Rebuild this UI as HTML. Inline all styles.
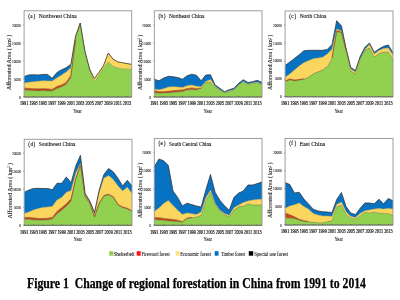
<!DOCTYPE html>
<html><head><meta charset="utf-8"><style>
html,body{margin:0;padding:0;background:#fff;width:400px;height:300px;overflow:hidden}
svg{display:block;filter:blur(0.35px)}
text{font-family:"Liberation Serif",serif;fill:#222}
.lg{fill:none;stroke:#5f8f35;stroke-width:.5}
.lr{fill:none;stroke:#8a2a10;stroke-width:.6}
.ly{fill:none;stroke:#c9a040;stroke-width:.5}
.lt{fill:none;stroke:#2a2a2a;stroke-width:.7}
.fr{fill:none;stroke:#999;stroke-width:.95}
.ax{stroke:#5a6a4a;stroke-width:.9}
.tk{stroke:#555;stroke-width:.5}
.yt{font-size:4.6px;text-anchor:end;fill:#222;stroke:#222;stroke-width:.08}
.xt{font-size:5.6px;text-anchor:middle;fill:#111;stroke:#111;stroke-width:.2}
.xl{font-size:6.2px;text-anchor:middle;fill:#222;stroke:#222;stroke-width:.08}
.yl{font-size:6.0px;text-anchor:middle;fill:#222;stroke:#222;stroke-width:.1}
.sup{font-size:3px}
.ti{font-size:5.5px;fill:#111;stroke:#111;stroke-width:.1}
.tp{font-size:5.2px;fill:#111;stroke:#111;stroke-width:.12}
.lg2{font-size:6.2px;fill:#111;stroke:#111;stroke-width:.08}
.cap{font-size:14px;font-weight:bold;fill:#000;stroke:#000;stroke-width:.25}
</style></head><body>
<svg width="400" height="300" viewBox="0 0 400 300">
<g><path d="M24.1,90.1 L28.78,90.5 L33.46,90.8 L38.13,90.9 L42.81,90.7 L47.49,90.9 L52.17,91.1 L56.85,88.7 L61.53,86.9 L66.2,84.5 L70.88,77.5 L75.56,40 L80.24,23.5 L84.92,52 L89.6,70 L94.27,82 L98.95,75 L103.63,68 L108.31,62 L112.99,66.2 L117.67,68 L122.34,68.9 L127.02,69.2 L131.7,69.2 L131.7,97 L127.02,97 L122.34,97 L117.67,97 L112.99,97 L108.31,97 L103.63,97 L98.95,97 L94.27,97 L89.6,97 L84.92,97 L80.24,97 L75.56,97 L70.88,97 L66.2,97 L61.53,97 L56.85,97 L52.17,97 L47.49,97 L42.81,97 L38.13,97 L33.46,97 L28.78,97 L24.1,97Z" fill="#92d050"/><path d="M24.1,88 L28.78,88.5 L33.46,88.7 L38.13,88.9 L42.81,88.7 L47.49,88.9 L52.17,89.4 L56.85,86.6 L61.53,84.9 L66.2,82.4 L70.88,75.4 L75.56,40 L80.24,23 L84.92,52 L89.6,70 L94.27,82 L98.95,75 L103.63,68 L108.31,62 L112.99,66.2 L117.67,68 L122.34,68.9 L127.02,69.2 L131.7,69.2 L131.7,69.2 L127.02,69.2 L122.34,68.9 L117.67,68 L112.99,66.2 L108.31,62 L103.63,68 L98.95,75 L94.27,82 L89.6,70 L84.92,52 L80.24,23.5 L75.56,40 L70.88,77.5 L66.2,84.5 L61.53,86.9 L56.85,88.7 L52.17,91.1 L47.49,90.9 L42.81,90.7 L38.13,90.9 L33.46,90.8 L28.78,90.5 L24.1,90.1Z" fill="#c24a1c"/><path d="M24.1,83.1 L28.78,82.3 L33.46,81.7 L38.13,81.3 L42.81,80.7 L47.49,80.9 L52.17,81 L56.85,77.9 L61.53,75.1 L66.2,71.9 L70.88,67.7 L75.56,37.5 L80.24,23 L84.92,51.5 L89.6,69.5 L94.27,78.6 L98.95,72.4 L103.63,65.3 L108.31,53 L112.99,59.1 L117.67,61.8 L122.34,62.7 L127.02,63.6 L131.7,64.4 L131.7,69.2 L127.02,69.2 L122.34,68.9 L117.67,68 L112.99,66.2 L108.31,62 L103.63,68 L98.95,75 L94.27,82 L89.6,70 L84.92,52 L80.24,23 L75.56,40 L70.88,75.4 L66.2,82.4 L61.53,84.9 L56.85,86.6 L52.17,89.4 L47.49,88.9 L42.81,88.7 L38.13,88.9 L33.46,88.7 L28.78,88.5 L24.1,88Z" fill="#fad65f"/><path d="M24.1,76.5 L28.78,74.9 L33.46,74.7 L38.13,75 L42.81,74.4 L47.49,74.4 L52.17,78.2 L56.85,72.6 L61.53,69.8 L66.2,67.7 L70.88,64.2 L75.56,36 L80.24,23 L84.92,51 L89.6,69 L94.27,78.6 L98.95,72.4 L103.63,65.3 L108.31,53 L112.99,59.1 L117.67,61.8 L122.34,62.7 L127.02,63.6 L131.7,64.4 L131.7,64.4 L127.02,63.6 L122.34,62.7 L117.67,61.8 L112.99,59.1 L108.31,53 L103.63,65.3 L98.95,72.4 L94.27,78.6 L89.6,69.5 L84.92,51.5 L80.24,23 L75.56,37.5 L70.88,67.7 L66.2,71.9 L61.53,75.1 L56.85,77.9 L52.17,81 L47.49,80.9 L42.81,80.7 L38.13,81.3 L33.46,81.7 L28.78,82.3 L24.1,83.1Z" fill="#0872c2"/><path d="M24.1,90.1 L28.78,90.5 L33.46,90.8 L38.13,90.9 L42.81,90.7 L47.49,90.9 L52.17,91.1 L56.85,88.7 L61.53,86.9 L66.2,84.5 L70.88,77.5 L75.56,40 L80.24,23.5 L84.92,52 L89.6,70 L94.27,82 L98.95,75 L103.63,68 L108.31,62 L112.99,66.2 L117.67,68 L122.34,68.9 L127.02,69.2 L131.7,69.2" class="lg"/><path d="M24.1,88 L28.78,88.5 L33.46,88.7 L38.13,88.9 L42.81,88.7 L47.49,88.9 L52.17,89.4 L56.85,86.6 L61.53,84.9 L66.2,82.4 L70.88,75.4 L75.56,40" class="lr"/><path d="M24.1,83.1 L28.78,82.3 L33.46,81.7 L38.13,81.3 L42.81,80.7 L47.49,80.9 L52.17,81 L56.85,77.9 L61.53,75.1 L66.2,71.9 L70.88,67.7 L75.56,37.5 L80.24,23 M89.6,69.5 L94.27,78.6 L98.95,72.4 L103.63,65.3 L108.31,53 L112.99,59.1 L117.67,61.8 L122.34,62.7 L127.02,63.6 L131.7,64.4" class="ly"/><path d="M24.1,76.5 L28.78,74.9 L33.46,74.7 L38.13,75 L42.81,74.4 L47.49,74.4 L52.17,78.2 L56.85,72.6 L61.53,69.8 L66.2,67.7 L70.88,64.2 L75.56,36 L80.24,23 L84.92,51 L89.6,69 L94.27,78.6 L98.95,72.4 L103.63,65.3 L108.31,53 L112.99,59.1 L117.67,61.8 L122.34,62.7 L127.02,63.6 L131.7,64.4" class="lt"/><rect x="24.1" y="10.8" width="107.6" height="86.2" class="fr"/><path d="M24.1,97 H131.7" class="ax"/><text x="20.9" y="98.5" class="yt" textLength="1.8" lengthAdjust="spacingAndGlyphs">0</text><path d="M23.1,97 h1" class="tk"/><text x="20.9" y="80.5" class="yt" textLength="7.2" lengthAdjust="spacingAndGlyphs">5000</text><path d="M23.1,79 h1" class="tk"/><text x="20.9" y="62.5" class="yt" textLength="9" lengthAdjust="spacingAndGlyphs">10000</text><path d="M23.1,61 h1" class="tk"/><text x="20.9" y="44.5" class="yt" textLength="9" lengthAdjust="spacingAndGlyphs">15000</text><path d="M23.1,43 h1" class="tk"/><text x="20.9" y="26.5" class="yt" textLength="9" lengthAdjust="spacingAndGlyphs">20000</text><path d="M23.1,25 h1" class="tk"/><text x="24.1" y="105.3" class="xt" textLength="8.3" lengthAdjust="spacingAndGlyphs">1991</text><path d="M24.1,97 v-1" class="tk"/><text x="33.46" y="105.3" class="xt" textLength="8.3" lengthAdjust="spacingAndGlyphs">1993</text><path d="M33.46,97 v-1" class="tk"/><text x="42.81" y="105.3" class="xt" textLength="8.3" lengthAdjust="spacingAndGlyphs">1995</text><path d="M42.81,97 v-1" class="tk"/><text x="52.17" y="105.3" class="xt" textLength="8.3" lengthAdjust="spacingAndGlyphs">1997</text><path d="M52.17,97 v-1" class="tk"/><text x="61.53" y="105.3" class="xt" textLength="8.3" lengthAdjust="spacingAndGlyphs">1999</text><path d="M61.53,97 v-1" class="tk"/><text x="70.88" y="105.3" class="xt" textLength="8.3" lengthAdjust="spacingAndGlyphs">2001</text><path d="M70.88,97 v-1" class="tk"/><text x="80.24" y="105.3" class="xt" textLength="8.3" lengthAdjust="spacingAndGlyphs">2003</text><path d="M80.24,97 v-1" class="tk"/><text x="89.6" y="105.3" class="xt" textLength="8.3" lengthAdjust="spacingAndGlyphs">2005</text><path d="M89.6,97 v-1" class="tk"/><text x="98.95" y="105.3" class="xt" textLength="8.3" lengthAdjust="spacingAndGlyphs">2007</text><path d="M98.95,97 v-1" class="tk"/><text x="108.31" y="105.3" class="xt" textLength="8.3" lengthAdjust="spacingAndGlyphs">2009</text><path d="M108.31,97 v-1" class="tk"/><text x="117.67" y="105.3" class="xt" textLength="8.3" lengthAdjust="spacingAndGlyphs">2011</text><path d="M117.67,97 v-1" class="tk"/><text x="127.02" y="105.3" class="xt" textLength="8.3" lengthAdjust="spacingAndGlyphs">2013</text><path d="M127.02,97 v-1" class="tk"/><text x="77.6" y="113" class="xl" textLength="8.5" lengthAdjust="spacingAndGlyphs">Year</text><text transform="translate(11.4,62.4) rotate(-90)" class="yl">Afforested Area (&#8201;km<tspan class="sup" dy="-1.2">2</tspan><tspan dy="1.2">&#8201;)</tspan></text><text x="28.2" y="17.7" class="tp">(</text><text x="30.3" y="17.7" class="tp">a</text><text x="33.5" y="17.7" class="tp">)</text><text x="38.7" y="17.9" class="ti" textLength="38" lengthAdjust="spacingAndGlyphs">Northwest China</text></g>
<g><path d="M154.3,93 L158.98,93.3 L163.67,93 L168.35,93 L173.03,92.5 L177.71,92 L182.4,91.7 L187.08,90 L191.76,89.7 L196.44,90 L201.13,88.3 L205.81,82.5 L210.49,82.5 L215.17,87 L219.86,90 L224.54,93 L229.22,91.3 L233.9,90 L238.59,85.3 L243.27,81.7 L247.95,84.7 L252.63,83.3 L257.32,82.5 L262,85 L262,97 L257.32,97 L252.63,97 L247.95,97 L243.27,97 L238.59,97 L233.9,97 L229.22,97 L224.54,97 L219.86,97 L215.17,97 L210.49,97 L205.81,97 L201.13,97 L196.44,97 L191.76,97 L187.08,97 L182.4,97 L177.71,97 L173.03,97 L168.35,97 L163.67,97 L158.98,97 L154.3,97Z" fill="#92d050"/><path d="M154.3,90.8 L158.98,91.7 L163.67,91.7 L168.35,91.3 L173.03,90.8 L177.71,90.3 L182.4,90 L187.08,88.7 L191.76,88 L196.44,88.7 L201.13,88 L205.81,82.3 L210.49,82 L215.17,86.7 L219.86,89.8 L224.54,92.8 L229.22,91.2 L233.9,89.8 L238.59,85.1 L243.27,81.5 L247.95,84.5 L252.63,83.1 L257.32,82.3 L262,84.8 L262,85 L257.32,82.5 L252.63,83.3 L247.95,84.7 L243.27,81.7 L238.59,85.3 L233.9,90 L229.22,91.3 L224.54,93 L219.86,90 L215.17,87 L210.49,82.5 L205.81,82.5 L201.13,88.3 L196.44,90 L191.76,89.7 L187.08,90 L182.4,91.7 L177.71,92 L173.03,92.5 L168.35,93 L163.67,93 L158.98,93.3 L154.3,93Z" fill="#c24a1c"/><path d="M154.3,89.2 L158.98,89.7 L163.67,88.7 L168.35,87 L173.03,86.7 L177.71,87 L182.4,87.5 L187.08,85.8 L191.76,85 L196.44,86.3 L201.13,86.7 L205.81,81.5 L210.49,79.5 L215.17,86.2 L219.86,89.5 L224.54,92.5 L229.22,90.8 L233.9,89.5 L238.59,84.8 L243.27,81.2 L247.95,84 L252.63,82.8 L257.32,81.9 L262,84.3 L262,84.8 L257.32,82.3 L252.63,83.1 L247.95,84.5 L243.27,81.5 L238.59,85.1 L233.9,89.8 L229.22,91.2 L224.54,92.8 L219.86,89.8 L215.17,86.7 L210.49,82 L205.81,82.3 L201.13,88 L196.44,88.7 L191.76,88 L187.08,88.7 L182.4,90 L177.71,90.3 L173.03,90.8 L168.35,91.3 L163.67,91.7 L158.98,91.7 L154.3,90.8Z" fill="#fad65f"/><path d="M154.3,79.2 L158.98,80.8 L163.67,78 L168.35,76.3 L173.03,76.7 L177.71,77.5 L182.4,79.2 L187.08,75.8 L191.76,74.2 L196.44,75.3 L201.13,80.8 L205.81,75 L210.49,74.7 L215.17,85 L219.86,88.3 L224.54,91.7 L229.22,89.7 L233.9,88.3 L238.59,83.3 L243.27,79.7 L247.95,82.5 L252.63,81.7 L257.32,80.3 L262,82.5 L262,84.3 L257.32,81.9 L252.63,82.8 L247.95,84 L243.27,81.2 L238.59,84.8 L233.9,89.5 L229.22,90.8 L224.54,92.5 L219.86,89.5 L215.17,86.2 L210.49,79.5 L205.81,81.5 L201.13,86.7 L196.44,86.3 L191.76,85 L187.08,85.8 L182.4,87.5 L177.71,87 L173.03,86.7 L168.35,87 L163.67,88.7 L158.98,89.7 L154.3,89.2Z" fill="#0872c2"/><path d="M154.3,93 L158.98,93.3 L163.67,93 L168.35,93 L173.03,92.5 L177.71,92 L182.4,91.7 L187.08,90 L191.76,89.7 L196.44,90 L201.13,88.3 L205.81,82.5 L210.49,82.5 L215.17,87 L219.86,90 L224.54,93 L229.22,91.3 L233.9,90 L238.59,85.3 L243.27,81.7 L247.95,84.7 L252.63,83.3 L257.32,82.5 L262,85" class="lg"/><path d="M154.3,90.8 L158.98,91.7 L163.67,91.7 L168.35,91.3 L173.03,90.8 L177.71,90.3 L182.4,90 L187.08,88.7 L191.76,88 L196.44,88.7 L201.13,88" class="lr"/><path d="M154.3,89.2 L158.98,89.7 L163.67,88.7 L168.35,87 L173.03,86.7 L177.71,87 L182.4,87.5 L187.08,85.8 L191.76,85 L196.44,86.3 L201.13,86.7 L205.81,81.5 L210.49,79.5 L215.17,86.2" class="ly"/><path d="M154.3,79.2 L158.98,80.8 L163.67,78 L168.35,76.3 L173.03,76.7 L177.71,77.5 L182.4,79.2 L187.08,75.8 L191.76,74.2 L196.44,75.3 L201.13,80.8 L205.81,75 L210.49,74.7 L215.17,85 L219.86,88.3 L224.54,91.7 L229.22,89.7 L233.9,88.3 L238.59,83.3 L243.27,79.7 L247.95,82.5 L252.63,81.7 L257.32,80.3 L262,82.5" class="lt"/><rect x="154.3" y="10.8" width="107.7" height="86.2" class="fr"/><path d="M154.3,97 H262" class="ax"/><text x="151.1" y="98.5" class="yt" textLength="1.8" lengthAdjust="spacingAndGlyphs">0</text><path d="M153.3,97 h1" class="tk"/><text x="151.1" y="80.5" class="yt" textLength="7.2" lengthAdjust="spacingAndGlyphs">5000</text><path d="M153.3,79 h1" class="tk"/><text x="151.1" y="62.5" class="yt" textLength="9" lengthAdjust="spacingAndGlyphs">10000</text><path d="M153.3,61 h1" class="tk"/><text x="151.1" y="44.5" class="yt" textLength="9" lengthAdjust="spacingAndGlyphs">15000</text><path d="M153.3,43 h1" class="tk"/><text x="151.1" y="26.5" class="yt" textLength="9" lengthAdjust="spacingAndGlyphs">20000</text><path d="M153.3,25 h1" class="tk"/><text x="154.3" y="105.3" class="xt" textLength="8.3" lengthAdjust="spacingAndGlyphs">1991</text><path d="M154.3,97 v-1" class="tk"/><text x="163.67" y="105.3" class="xt" textLength="8.3" lengthAdjust="spacingAndGlyphs">1993</text><path d="M163.67,97 v-1" class="tk"/><text x="173.03" y="105.3" class="xt" textLength="8.3" lengthAdjust="spacingAndGlyphs">1995</text><path d="M173.03,97 v-1" class="tk"/><text x="182.4" y="105.3" class="xt" textLength="8.3" lengthAdjust="spacingAndGlyphs">1997</text><path d="M182.4,97 v-1" class="tk"/><text x="191.76" y="105.3" class="xt" textLength="8.3" lengthAdjust="spacingAndGlyphs">1999</text><path d="M191.76,97 v-1" class="tk"/><text x="201.13" y="105.3" class="xt" textLength="8.3" lengthAdjust="spacingAndGlyphs">2001</text><path d="M201.13,97 v-1" class="tk"/><text x="210.49" y="105.3" class="xt" textLength="8.3" lengthAdjust="spacingAndGlyphs">2003</text><path d="M210.49,97 v-1" class="tk"/><text x="219.86" y="105.3" class="xt" textLength="8.3" lengthAdjust="spacingAndGlyphs">2005</text><path d="M219.86,97 v-1" class="tk"/><text x="229.22" y="105.3" class="xt" textLength="8.3" lengthAdjust="spacingAndGlyphs">2007</text><path d="M229.22,97 v-1" class="tk"/><text x="238.59" y="105.3" class="xt" textLength="8.3" lengthAdjust="spacingAndGlyphs">2009</text><path d="M238.59,97 v-1" class="tk"/><text x="247.95" y="105.3" class="xt" textLength="8.3" lengthAdjust="spacingAndGlyphs">2011</text><path d="M247.95,97 v-1" class="tk"/><text x="257.32" y="105.3" class="xt" textLength="8.3" lengthAdjust="spacingAndGlyphs">2013</text><path d="M257.32,97 v-1" class="tk"/><text x="207.85" y="113" class="xl" textLength="8.5" lengthAdjust="spacingAndGlyphs">Year</text><text transform="translate(141.6,62.4) rotate(-90)" class="yl">Afforested Area (&#8201;km<tspan class="sup" dy="-1.2">2</tspan><tspan dy="1.2">&#8201;)</tspan></text><text x="158.4" y="17.7" class="tp">(</text><text x="160.5" y="17.7" class="tp">b</text><text x="163.7" y="17.7" class="tp">)</text><text x="168.9" y="17.9" class="ti" textLength="35.5" lengthAdjust="spacingAndGlyphs">Northeast China</text></g>
<g><path d="M285.1,81.8 L289.79,80 L294.48,80.9 L299.17,80.2 L303.87,79.3 L308.56,77.3 L313.25,74 L317.94,72 L322.63,70 L327.32,66.7 L332.01,58.7 L336.7,31.5 L341.4,33 L346.09,50.8 L350.78,71 L355.47,74 L360.16,59.5 L364.85,50.4 L369.54,48 L374.23,57.2 L378.93,53.8 L383.62,52.2 L388.31,52.2 L393,59.5 L393,96.8 L388.31,96.8 L383.62,96.8 L378.93,96.8 L374.23,96.8 L369.54,96.8 L364.85,96.8 L360.16,96.8 L355.47,96.8 L350.78,96.8 L346.09,96.8 L341.4,96.8 L336.7,96.8 L332.01,96.8 L327.32,96.8 L322.63,96.8 L317.94,96.8 L313.25,96.8 L308.56,96.8 L303.87,96.8 L299.17,96.8 L294.48,96.8 L289.79,96.8 L285.1,96.8Z" fill="#92d050"/><path d="M285.1,80.9 L289.79,79 L294.48,80 L299.17,79.5 L303.87,78.8 L308.56,76.8 L313.25,73.5 L317.94,71.5 L322.63,69.5 L327.32,66.2 L332.01,58.2 L336.7,30.5 L341.4,32 L346.09,50.5 L350.78,70.5 L355.47,73.5 L360.16,59.2 L364.85,50 L369.54,47.5 L374.23,56.7 L378.93,53.3 L383.62,51.7 L388.31,51.7 L393,59 L393,59.5 L388.31,52.2 L383.62,52.2 L378.93,53.8 L374.23,57.2 L369.54,48 L364.85,50.4 L360.16,59.5 L355.47,74 L350.78,71 L346.09,50.8 L341.4,33 L336.7,31.5 L332.01,58.7 L327.32,66.7 L322.63,70 L317.94,72 L313.25,74 L308.56,77.3 L303.87,79.3 L299.17,80.2 L294.48,80.9 L289.79,80 L285.1,81.8Z" fill="#c24a1c"/><path d="M285.1,77.3 L289.79,74 L294.48,70 L299.17,66 L303.87,62.7 L308.56,60.7 L313.25,58.7 L317.94,58 L322.63,57.3 L327.32,54 L332.01,49.3 L336.7,29 L341.4,31 L346.09,50 L350.78,69 L355.47,72 L360.16,58.8 L364.85,49.5 L369.54,44.5 L374.23,54 L378.93,50.6 L383.62,48.5 L388.31,48 L393,55 L393,59 L388.31,51.7 L383.62,51.7 L378.93,53.3 L374.23,56.7 L369.54,47.5 L364.85,50 L360.16,59.2 L355.47,73.5 L350.78,70.5 L346.09,50.5 L341.4,32 L336.7,30.5 L332.01,58.2 L327.32,66.2 L322.63,69.5 L317.94,71.5 L313.25,73.5 L308.56,76.8 L303.87,78.8 L299.17,79.5 L294.48,80 L289.79,79 L285.1,80.9Z" fill="#fad65f"/><path d="M285.1,65.6 L289.79,62 L294.48,58.4 L299.17,54.8 L303.87,50.8 L308.56,50.3 L313.25,50.3 L317.94,50.3 L322.63,50.3 L327.32,49.4 L332.01,44.5 L336.7,20.7 L341.4,25.7 L346.09,48.5 L350.78,67.5 L355.47,70.5 L360.16,56.5 L364.85,47.3 L369.54,43 L374.23,52.2 L378.93,49 L383.62,46.3 L388.31,45 L393,52.7 L393,55 L388.31,48 L383.62,48.5 L378.93,50.6 L374.23,54 L369.54,44.5 L364.85,49.5 L360.16,58.8 L355.47,72 L350.78,69 L346.09,50 L341.4,31 L336.7,29 L332.01,49.3 L327.32,54 L322.63,57.3 L317.94,58 L313.25,58.7 L308.56,60.7 L303.87,62.7 L299.17,66 L294.48,70 L289.79,74 L285.1,77.3Z" fill="#0872c2"/><path d="M285.1,81.8 L289.79,80 L294.48,80.9 L299.17,80.2 L303.87,79.3 L308.56,77.3 L313.25,74 L317.94,72 L322.63,70 L327.32,66.7 L332.01,58.7 L336.7,31.5 L341.4,33 L346.09,50.8 L350.78,71 L355.47,74 L360.16,59.5 L364.85,50.4 L369.54,48 L374.23,57.2 L378.93,53.8 L383.62,52.2 L388.31,52.2 L393,59.5" class="lg"/><path d="M285.1,80.9 L289.79,79 L294.48,80 L299.17,79.5 L303.87,78.8 M332.01,58.2 L336.7,30.5 L341.4,32 L346.09,50.5" class="lr"/><path d="M285.1,77.3 L289.79,74 L294.48,70 L299.17,66 L303.87,62.7 L308.56,60.7 L313.25,58.7 L317.94,58 L322.63,57.3 L327.32,54 L332.01,49.3 L336.7,29 L341.4,31 L346.09,50 L350.78,69 L355.47,72 L360.16,58.8 M364.85,49.5 L369.54,44.5 L374.23,54 L378.93,50.6 L383.62,48.5 L388.31,48 L393,55" class="ly"/><path d="M285.1,65.6 L289.79,62 L294.48,58.4 L299.17,54.8 L303.87,50.8 L308.56,50.3 L313.25,50.3 L317.94,50.3 L322.63,50.3 L327.32,49.4 L332.01,44.5 L336.7,20.7 L341.4,25.7 L346.09,48.5 L350.78,67.5 L355.47,70.5 L360.16,56.5 L364.85,47.3 L369.54,43 L374.23,52.2 L378.93,49 L383.62,46.3 L388.31,45 L393,52.7" class="lt"/><rect x="285.1" y="11" width="107.9" height="85.8" class="fr"/><path d="M285.1,96.8 H393" class="ax"/><text x="281.9" y="98.3" class="yt" textLength="1.8" lengthAdjust="spacingAndGlyphs">0</text><path d="M284.1,96.8 h1" class="tk"/><text x="281.9" y="80.38" class="yt" textLength="7.2" lengthAdjust="spacingAndGlyphs">5000</text><path d="M284.1,78.88 h1" class="tk"/><text x="281.9" y="62.47" class="yt" textLength="9" lengthAdjust="spacingAndGlyphs">10000</text><path d="M284.1,60.97 h1" class="tk"/><text x="281.9" y="44.55" class="yt" textLength="9" lengthAdjust="spacingAndGlyphs">15000</text><path d="M284.1,43.05 h1" class="tk"/><text x="281.9" y="26.63" class="yt" textLength="9" lengthAdjust="spacingAndGlyphs">20000</text><path d="M284.1,25.13 h1" class="tk"/><text x="285.1" y="105.1" class="xt" textLength="8.3" lengthAdjust="spacingAndGlyphs">1991</text><path d="M285.1,96.8 v-1" class="tk"/><text x="294.48" y="105.1" class="xt" textLength="8.3" lengthAdjust="spacingAndGlyphs">1993</text><path d="M294.48,96.8 v-1" class="tk"/><text x="303.87" y="105.1" class="xt" textLength="8.3" lengthAdjust="spacingAndGlyphs">1995</text><path d="M303.87,96.8 v-1" class="tk"/><text x="313.25" y="105.1" class="xt" textLength="8.3" lengthAdjust="spacingAndGlyphs">1997</text><path d="M313.25,96.8 v-1" class="tk"/><text x="322.63" y="105.1" class="xt" textLength="8.3" lengthAdjust="spacingAndGlyphs">1999</text><path d="M322.63,96.8 v-1" class="tk"/><text x="332.01" y="105.1" class="xt" textLength="8.3" lengthAdjust="spacingAndGlyphs">2001</text><path d="M332.01,96.8 v-1" class="tk"/><text x="341.4" y="105.1" class="xt" textLength="8.3" lengthAdjust="spacingAndGlyphs">2003</text><path d="M341.4,96.8 v-1" class="tk"/><text x="350.78" y="105.1" class="xt" textLength="8.3" lengthAdjust="spacingAndGlyphs">2005</text><path d="M350.78,96.8 v-1" class="tk"/><text x="360.16" y="105.1" class="xt" textLength="8.3" lengthAdjust="spacingAndGlyphs">2007</text><path d="M360.16,96.8 v-1" class="tk"/><text x="369.54" y="105.1" class="xt" textLength="8.3" lengthAdjust="spacingAndGlyphs">2009</text><path d="M369.54,96.8 v-1" class="tk"/><text x="378.93" y="105.1" class="xt" textLength="8.3" lengthAdjust="spacingAndGlyphs">2011</text><path d="M378.93,96.8 v-1" class="tk"/><text x="388.31" y="105.1" class="xt" textLength="8.3" lengthAdjust="spacingAndGlyphs">2013</text><path d="M388.31,96.8 v-1" class="tk"/><text x="338.75" y="112.8" class="xl" textLength="8.5" lengthAdjust="spacingAndGlyphs">Year</text><text transform="translate(272.4,62.4) rotate(-90)" class="yl">Afforested Area (&#8201;km<tspan class="sup" dy="-1.2">2</tspan><tspan dy="1.2">&#8201;)</tspan></text><text x="289.2" y="17.9" class="tp">(</text><text x="291.3" y="17.9" class="tp">c</text><text x="294.5" y="17.9" class="tp">)</text><text x="299.7" y="18.1" class="ti" textLength="26.6" lengthAdjust="spacingAndGlyphs">North China</text></g>
<g><path d="M24.2,219.5 L28.89,219.5 L33.57,220 L38.26,220.2 L42.95,220.2 L47.63,220 L52.32,219.2 L57.01,214 L61.7,210.3 L66.38,206.4 L71.07,201.3 L75.76,179.1 L80.44,165.2 L85.13,196.8 L89.82,203.5 L94.5,217.2 L99.19,203.8 L103.88,196.2 L108.57,194.9 L113.25,197.4 L117.94,205.1 L122.63,207.7 L127.31,209 L132,211.5 L132,225.3 L127.31,225.3 L122.63,225.3 L117.94,225.3 L113.25,225.3 L108.57,225.3 L103.88,225.3 L99.19,225.3 L94.5,225.3 L89.82,225.3 L85.13,225.3 L80.44,225.3 L75.76,225.3 L71.07,225.3 L66.38,225.3 L61.7,225.3 L57.01,225.3 L52.32,225.3 L47.63,225.3 L42.95,225.3 L38.26,225.3 L33.57,225.3 L28.89,225.3 L24.2,225.3Z" fill="#92d050"/><path d="M24.2,217.5 L28.89,217.5 L33.57,218 L38.26,218.5 L42.95,218.5 L47.63,218.3 L52.32,217.5 L57.01,211.5 L61.7,207.7 L66.38,203.8 L71.07,198.7 L75.76,178.5 L80.44,164.5 L85.13,196 L89.82,203 L94.5,216.5 L99.19,203 L103.88,195.5 L108.57,194.2 L113.25,196.7 L117.94,204.4 L122.63,207 L127.31,208.3 L132,210.8 L132,211.5 L127.31,209 L122.63,207.7 L117.94,205.1 L113.25,197.4 L108.57,194.9 L103.88,196.2 L99.19,203.8 L94.5,217.2 L89.82,203.5 L85.13,196.8 L80.44,165.2 L75.76,179.1 L71.07,201.3 L66.38,206.4 L61.7,210.3 L57.01,214 L52.32,219.2 L47.63,220 L42.95,220.2 L38.26,220.2 L33.57,220 L28.89,219.5 L24.2,219.5Z" fill="#c24a1c"/><path d="M24.2,213.6 L28.89,212 L33.57,210 L38.26,208.5 L42.95,207.5 L47.63,207 L52.32,206.5 L57.01,200 L61.7,197.4 L66.38,192.3 L71.07,190.5 L75.76,173 L80.44,163.5 L85.13,195 L89.82,202 L94.5,214 L99.19,192.5 L103.88,178.2 L108.57,175.6 L113.25,179.5 L117.94,185.9 L122.63,191 L127.31,187.2 L132,193.6 L132,210.8 L127.31,208.3 L122.63,207 L117.94,204.4 L113.25,196.7 L108.57,194.2 L103.88,195.5 L99.19,203 L94.5,216.5 L89.82,203 L85.13,196 L80.44,164.5 L75.76,178.5 L71.07,198.7 L66.38,203.8 L61.7,207.7 L57.01,211.5 L52.32,217.5 L47.63,218.3 L42.95,218.5 L38.26,218.5 L33.57,218 L28.89,217.5 L24.2,217.5Z" fill="#fad65f"/><path d="M24.2,192.3 L28.89,190 L33.57,188.5 L38.26,188.3 L42.95,188.5 L47.63,188.5 L52.32,189.7 L57.01,183.3 L61.7,183.3 L66.38,176.9 L71.07,182.8 L75.76,166 L80.44,155.3 L85.13,193.5 L89.82,201 L94.5,212.5 L99.19,190 L103.88,174.4 L108.57,168.5 L113.25,171.8 L117.94,178.2 L122.63,185.9 L127.31,180.3 L132,185.9 L132,193.6 L127.31,187.2 L122.63,191 L117.94,185.9 L113.25,179.5 L108.57,175.6 L103.88,178.2 L99.19,192.5 L94.5,214 L89.82,202 L85.13,195 L80.44,163.5 L75.76,173 L71.07,190.5 L66.38,192.3 L61.7,197.4 L57.01,200 L52.32,206.5 L47.63,207 L42.95,207.5 L38.26,208.5 L33.57,210 L28.89,212 L24.2,213.6Z" fill="#0872c2"/><path d="M24.2,219.5 L28.89,219.5 L33.57,220 L38.26,220.2 L42.95,220.2 L47.63,220 L52.32,219.2 L57.01,214 L61.7,210.3 L66.38,206.4 L71.07,201.3 L75.76,179.1 L80.44,165.2 L85.13,196.8 L89.82,203.5 L94.5,217.2 L99.19,203.8 L103.88,196.2 L108.57,194.9 L113.25,197.4 L117.94,205.1 L122.63,207.7 L127.31,209 L132,211.5" class="lg"/><path d="M24.2,217.5 L28.89,217.5 L33.57,218 L38.26,218.5 L42.95,218.5 L47.63,218.3 L52.32,217.5 L57.01,211.5 L61.7,207.7 L66.38,203.8 L71.07,198.7 L75.76,178.5 L80.44,164.5 L85.13,196 L89.82,203 L94.5,216.5 L99.19,203 L103.88,195.5 L108.57,194.2 L113.25,196.7 L117.94,204.4 L122.63,207 L127.31,208.3 L132,210.8" class="lr"/><path d="M24.2,213.6 L28.89,212 L33.57,210 L38.26,208.5 L42.95,207.5 L47.63,207 L52.32,206.5 L57.01,200 L61.7,197.4 L66.38,192.3 L71.07,190.5 L75.76,173 L80.44,163.5 L85.13,195 L89.82,202 L94.5,214 L99.19,192.5 L103.88,178.2 L108.57,175.6 L113.25,179.5 L117.94,185.9 L122.63,191 L127.31,187.2 L132,193.6" class="ly"/><path d="M24.2,192.3 L28.89,190 L33.57,188.5 L38.26,188.3 L42.95,188.5 L47.63,188.5 L52.32,189.7 L57.01,183.3 L61.7,183.3 L66.38,176.9 L71.07,182.8 L75.76,166 L80.44,155.3 L85.13,193.5 L89.82,201 L94.5,212.5 L99.19,190 L103.88,174.4 L108.57,168.5 L113.25,171.8 L117.94,178.2 L122.63,185.9 L127.31,180.3 L132,185.9" class="lt"/><rect x="24.2" y="139.3" width="107.8" height="86" class="fr"/><path d="M24.2,225.3 H132" class="ax"/><text x="21" y="226.8" class="yt" textLength="1.8" lengthAdjust="spacingAndGlyphs">0</text><path d="M23.2,225.3 h1" class="tk"/><text x="21" y="208.84" class="yt" textLength="7.2" lengthAdjust="spacingAndGlyphs">5000</text><path d="M23.2,207.34 h1" class="tk"/><text x="21" y="190.88" class="yt" textLength="9" lengthAdjust="spacingAndGlyphs">10000</text><path d="M23.2,189.38 h1" class="tk"/><text x="21" y="172.93" class="yt" textLength="9" lengthAdjust="spacingAndGlyphs">15000</text><path d="M23.2,171.43 h1" class="tk"/><text x="21" y="154.97" class="yt" textLength="9" lengthAdjust="spacingAndGlyphs">20000</text><path d="M23.2,153.47 h1" class="tk"/><text x="24.2" y="233.6" class="xt" textLength="8.3" lengthAdjust="spacingAndGlyphs">1991</text><path d="M24.2,225.3 v-1" class="tk"/><text x="33.57" y="233.6" class="xt" textLength="8.3" lengthAdjust="spacingAndGlyphs">1993</text><path d="M33.57,225.3 v-1" class="tk"/><text x="42.95" y="233.6" class="xt" textLength="8.3" lengthAdjust="spacingAndGlyphs">1995</text><path d="M42.95,225.3 v-1" class="tk"/><text x="52.32" y="233.6" class="xt" textLength="8.3" lengthAdjust="spacingAndGlyphs">1997</text><path d="M52.32,225.3 v-1" class="tk"/><text x="61.7" y="233.6" class="xt" textLength="8.3" lengthAdjust="spacingAndGlyphs">1999</text><path d="M61.7,225.3 v-1" class="tk"/><text x="71.07" y="233.6" class="xt" textLength="8.3" lengthAdjust="spacingAndGlyphs">2001</text><path d="M71.07,225.3 v-1" class="tk"/><text x="80.44" y="233.6" class="xt" textLength="8.3" lengthAdjust="spacingAndGlyphs">2003</text><path d="M80.44,225.3 v-1" class="tk"/><text x="89.82" y="233.6" class="xt" textLength="8.3" lengthAdjust="spacingAndGlyphs">2005</text><path d="M89.82,225.3 v-1" class="tk"/><text x="99.19" y="233.6" class="xt" textLength="8.3" lengthAdjust="spacingAndGlyphs">2007</text><path d="M99.19,225.3 v-1" class="tk"/><text x="108.57" y="233.6" class="xt" textLength="8.3" lengthAdjust="spacingAndGlyphs">2009</text><path d="M108.57,225.3 v-1" class="tk"/><text x="117.94" y="233.6" class="xt" textLength="8.3" lengthAdjust="spacingAndGlyphs">2011</text><path d="M117.94,225.3 v-1" class="tk"/><text x="127.31" y="233.6" class="xt" textLength="8.3" lengthAdjust="spacingAndGlyphs">2013</text><path d="M127.31,225.3 v-1" class="tk"/><text x="77.8" y="241.3" class="xl" textLength="8.5" lengthAdjust="spacingAndGlyphs">Year</text><text transform="translate(11.5,190.8) rotate(-90)" class="yl">Afforested Area (&#8201;km<tspan class="sup" dy="-1.2">2</tspan><tspan dy="1.2">&#8201;)</tspan></text><text x="28.3" y="146.2" class="tp">(</text><text x="30.4" y="146.2" class="tp">d</text><text x="33.6" y="146.2" class="tp">)</text><text x="38.8" y="146.4" class="ti" textLength="36.5" lengthAdjust="spacingAndGlyphs">Southwest China</text></g>
<g><path d="M154.3,219.8 L158.98,220 L163.67,220.5 L168.35,221 L173.03,221.5 L177.71,221.8 L182.4,222.1 L187.08,218.6 L191.76,217.9 L196.44,217.2 L201.13,215.5 L205.81,201.3 L210.49,192.4 L215.17,204.6 L219.86,211.3 L224.54,214.7 L229.22,217.2 L233.9,210.3 L238.59,206.9 L243.27,206.4 L247.95,204 L252.63,205 L257.32,205 L262,205 L262,225.3 L257.32,225.3 L252.63,225.3 L247.95,225.3 L243.27,225.3 L238.59,225.3 L233.9,225.3 L229.22,225.3 L224.54,225.3 L219.86,225.3 L215.17,225.3 L210.49,225.3 L205.81,225.3 L201.13,225.3 L196.44,225.3 L191.76,225.3 L187.08,225.3 L182.4,225.3 L177.71,225.3 L173.03,225.3 L168.35,225.3 L163.67,225.3 L158.98,225.3 L154.3,225.3Z" fill="#92d050"/><path d="M154.3,217.5 L158.98,217.8 L163.67,218.5 L168.35,219 L173.03,219.5 L177.71,220.2 L182.4,221.7 L187.08,218 L191.76,217.5 L196.44,216.8 L201.13,215 L205.81,201 L210.49,192 L215.17,204.3 L219.86,211 L224.54,214.5 L229.22,216.7 L233.9,209.8 L238.59,206.5 L243.27,206 L247.95,203.8 L252.63,204.8 L257.32,204.8 L262,204.8 L262,205 L257.32,205 L252.63,205 L247.95,204 L243.27,206.4 L238.59,206.9 L233.9,210.3 L229.22,217.2 L224.54,214.7 L219.86,211.3 L215.17,204.6 L210.49,192.4 L205.81,201.3 L201.13,215.5 L196.44,217.2 L191.76,217.9 L187.08,218.6 L182.4,222.1 L177.71,221.8 L173.03,221.5 L168.35,221 L163.67,220.5 L158.98,220 L154.3,219.8Z" fill="#c24a1c"/><path d="M154.3,211.5 L158.98,208 L163.67,203.5 L168.35,200.5 L173.03,205.5 L177.71,210.3 L182.4,214.4 L187.08,213 L191.76,213.7 L196.44,214.4 L201.13,212 L205.81,198 L210.49,190.1 L215.17,203.5 L219.86,210.2 L224.54,213.6 L229.22,215.5 L233.9,207.7 L238.59,205.1 L243.27,202.6 L247.95,201 L252.63,200 L257.32,199.6 L262,199 L262,204.8 L257.32,204.8 L252.63,204.8 L247.95,203.8 L243.27,206 L238.59,206.5 L233.9,209.8 L229.22,216.7 L224.54,214.5 L219.86,211 L215.17,204.3 L210.49,192 L205.81,201 L201.13,215 L196.44,216.8 L191.76,217.5 L187.08,218 L182.4,221.7 L177.71,220.2 L173.03,219.5 L168.35,219 L163.67,218.5 L158.98,217.8 L154.3,217.5Z" fill="#fad65f"/><path d="M154.3,166.7 L158.98,159 L163.67,160.8 L168.35,165.4 L173.03,191 L177.71,197.4 L182.4,205.9 L187.08,203.2 L191.76,204.6 L196.44,206 L201.13,206.9 L205.81,190.1 L210.49,174.5 L215.17,192.4 L219.86,200.2 L224.54,205.8 L229.22,210.3 L233.9,197.4 L238.59,193.1 L243.27,191 L247.95,185 L252.63,185 L257.32,183.6 L262,182 L262,199 L257.32,199.6 L252.63,200 L247.95,201 L243.27,202.6 L238.59,205.1 L233.9,207.7 L229.22,215.5 L224.54,213.6 L219.86,210.2 L215.17,203.5 L210.49,190.1 L205.81,198 L201.13,212 L196.44,214.4 L191.76,213.7 L187.08,213 L182.4,214.4 L177.71,210.3 L173.03,205.5 L168.35,200.5 L163.67,203.5 L158.98,208 L154.3,211.5Z" fill="#0872c2"/><path d="M154.3,219.8 L158.98,220 L163.67,220.5 L168.35,221 L173.03,221.5 L177.71,221.8 L182.4,222.1 L187.08,218.6 L191.76,217.9 L196.44,217.2 L201.13,215.5 L205.81,201.3 L210.49,192.4 L215.17,204.6 L219.86,211.3 L224.54,214.7 L229.22,217.2 L233.9,210.3 L238.59,206.9 L243.27,206.4 L247.95,204 L252.63,205 L257.32,205 L262,205" class="lg"/><path d="M154.3,217.5 L158.98,217.8 L163.67,218.5 L168.35,219 L173.03,219.5 L177.71,220.2 L182.4,221.7 L187.08,218 L191.76,217.5" class="lr"/><path d="M154.3,211.5 L158.98,208 L163.67,203.5 L168.35,200.5 L173.03,205.5 L177.71,210.3 L182.4,214.4 L187.08,213 L191.76,213.7 L196.44,214.4 L201.13,212 L205.81,198 L210.49,190.1 L215.17,203.5 L219.86,210.2 L224.54,213.6 L229.22,215.5 L233.9,207.7 L238.59,205.1 L243.27,202.6 L247.95,201 L252.63,200 L257.32,199.6 L262,199" class="ly"/><path d="M154.3,166.7 L158.98,159 L163.67,160.8 L168.35,165.4 L173.03,191 L177.71,197.4 L182.4,205.9 L187.08,203.2 L191.76,204.6 L196.44,206 L201.13,206.9 L205.81,190.1 L210.49,174.5 L215.17,192.4 L219.86,200.2 L224.54,205.8 L229.22,210.3 L233.9,197.4 L238.59,193.1 L243.27,191 L247.95,185 L252.63,185 L257.32,183.6 L262,182" class="lt"/><rect x="154.3" y="138.5" width="107.7" height="86.8" class="fr"/><path d="M154.3,225.3 H262" class="ax"/><text x="151.1" y="226.8" class="yt" textLength="1.8" lengthAdjust="spacingAndGlyphs">0</text><path d="M153.3,225.3 h1" class="tk"/><text x="151.1" y="208.67" class="yt" textLength="7.2" lengthAdjust="spacingAndGlyphs">5000</text><path d="M153.3,207.17 h1" class="tk"/><text x="151.1" y="190.55" class="yt" textLength="9" lengthAdjust="spacingAndGlyphs">10000</text><path d="M153.3,189.05 h1" class="tk"/><text x="151.1" y="172.42" class="yt" textLength="9" lengthAdjust="spacingAndGlyphs">15000</text><path d="M153.3,170.92 h1" class="tk"/><text x="151.1" y="154.3" class="yt" textLength="9" lengthAdjust="spacingAndGlyphs">20000</text><path d="M153.3,152.8 h1" class="tk"/><text x="154.3" y="233.6" class="xt" textLength="8.3" lengthAdjust="spacingAndGlyphs">1991</text><path d="M154.3,225.3 v-1" class="tk"/><text x="163.67" y="233.6" class="xt" textLength="8.3" lengthAdjust="spacingAndGlyphs">1993</text><path d="M163.67,225.3 v-1" class="tk"/><text x="173.03" y="233.6" class="xt" textLength="8.3" lengthAdjust="spacingAndGlyphs">1995</text><path d="M173.03,225.3 v-1" class="tk"/><text x="182.4" y="233.6" class="xt" textLength="8.3" lengthAdjust="spacingAndGlyphs">1997</text><path d="M182.4,225.3 v-1" class="tk"/><text x="191.76" y="233.6" class="xt" textLength="8.3" lengthAdjust="spacingAndGlyphs">1999</text><path d="M191.76,225.3 v-1" class="tk"/><text x="201.13" y="233.6" class="xt" textLength="8.3" lengthAdjust="spacingAndGlyphs">2001</text><path d="M201.13,225.3 v-1" class="tk"/><text x="210.49" y="233.6" class="xt" textLength="8.3" lengthAdjust="spacingAndGlyphs">2003</text><path d="M210.49,225.3 v-1" class="tk"/><text x="219.86" y="233.6" class="xt" textLength="8.3" lengthAdjust="spacingAndGlyphs">2005</text><path d="M219.86,225.3 v-1" class="tk"/><text x="229.22" y="233.6" class="xt" textLength="8.3" lengthAdjust="spacingAndGlyphs">2007</text><path d="M229.22,225.3 v-1" class="tk"/><text x="238.59" y="233.6" class="xt" textLength="8.3" lengthAdjust="spacingAndGlyphs">2009</text><path d="M238.59,225.3 v-1" class="tk"/><text x="247.95" y="233.6" class="xt" textLength="8.3" lengthAdjust="spacingAndGlyphs">2011</text><path d="M247.95,225.3 v-1" class="tk"/><text x="257.32" y="233.6" class="xt" textLength="8.3" lengthAdjust="spacingAndGlyphs">2013</text><path d="M257.32,225.3 v-1" class="tk"/><text x="207.85" y="241.3" class="xl" textLength="8.5" lengthAdjust="spacingAndGlyphs">Year</text><text transform="translate(141.6,190.4) rotate(-90)" class="yl">Afforested Area (&#8201;km<tspan class="sup" dy="-1.2">2</tspan><tspan dy="1.2">&#8201;)</tspan></text><text x="158.4" y="145.4" class="tp">(</text><text x="160.5" y="145.4" class="tp">e</text><text x="163.7" y="145.4" class="tp">)</text><text x="168.9" y="145.6" class="ti" textLength="42.5" lengthAdjust="spacingAndGlyphs">South Central China</text></g>
<g><path d="M285.1,217.8 L289.79,218.3 L294.48,218.7 L299.17,220.3 L303.87,221.5 L308.56,221.8 L313.25,222.3 L317.94,222.8 L322.63,222.8 L327.32,221.8 L332.01,221 L336.7,206.8 L341.4,205.5 L346.09,214.5 L350.78,218.3 L355.47,219.1 L360.16,216 L364.85,212.2 L369.54,213 L374.23,212.2 L378.93,213 L383.62,213.4 L388.31,213.7 L393,215.3 L393,225 L388.31,225 L383.62,225 L378.93,225 L374.23,225 L369.54,225 L364.85,225 L360.16,225 L355.47,225 L350.78,225 L346.09,225 L341.4,225 L336.7,225 L332.01,225 L327.32,225 L322.63,225 L317.94,225 L313.25,225 L308.56,225 L303.87,225 L299.17,225 L294.48,225 L289.79,225 L285.1,225Z" fill="#92d050"/><path d="M285.1,213 L289.79,214.8 L294.48,216.8 L299.17,219.3 L303.87,220.8 L308.56,221.5 L313.25,222 L317.94,222.5 L322.63,222.5 L327.32,221.5 L332.01,220.5 L336.7,206.5 L341.4,205 L346.09,214.2 L350.78,218 L355.47,218.8 L360.16,215.7 L364.85,212 L369.54,212.8 L374.23,212 L378.93,212.8 L383.62,213.2 L388.31,213.5 L393,215 L393,215.3 L388.31,213.7 L383.62,213.4 L378.93,213 L374.23,212.2 L369.54,213 L364.85,212.2 L360.16,216 L355.47,219.1 L350.78,218.3 L346.09,214.5 L341.4,205.5 L336.7,206.8 L332.01,221 L327.32,221.8 L322.63,222.8 L317.94,222.8 L313.25,222.3 L308.56,221.8 L303.87,221.5 L299.17,220.3 L294.48,218.7 L289.79,218.3 L285.1,217.8Z" fill="#c24a1c"/><path d="M285.1,208.3 L289.79,206 L294.48,204.8 L299.17,203 L303.87,206.5 L308.56,209.2 L313.25,213.4 L317.94,215.1 L322.63,216 L327.32,216 L332.01,216.5 L336.7,204.5 L341.4,202 L346.09,211.8 L350.78,216.5 L355.47,217.6 L360.16,213.5 L364.85,210.7 L369.54,209.9 L374.23,209.1 L378.93,208.4 L383.62,209.1 L388.31,208.4 L393,209.1 L393,215 L388.31,213.5 L383.62,213.2 L378.93,212.8 L374.23,212 L369.54,212.8 L364.85,212 L360.16,215.7 L355.47,218.8 L350.78,218 L346.09,214.2 L341.4,205 L336.7,206.5 L332.01,220.5 L327.32,221.5 L322.63,222.5 L317.94,222.5 L313.25,222 L308.56,221.5 L303.87,220.8 L299.17,219.3 L294.48,216.8 L289.79,214.8 L285.1,213Z" fill="#fad65f"/><path d="M285.1,182.5 L289.79,184.5 L294.48,193 L299.17,192.2 L303.87,199 L308.56,204 L313.25,209.2 L317.94,210.9 L322.63,211.7 L327.32,212 L332.01,212.5 L336.7,199.5 L341.4,192.5 L346.09,206.5 L350.78,213 L355.47,214.6 L360.16,208.3 L364.85,203 L369.54,203 L374.23,203.8 L378.93,199.2 L383.62,203.8 L388.31,198.4 L393,200.7 L393,209.1 L388.31,208.4 L383.62,209.1 L378.93,208.4 L374.23,209.1 L369.54,209.9 L364.85,210.7 L360.16,213.5 L355.47,217.6 L350.78,216.5 L346.09,211.8 L341.4,202 L336.7,204.5 L332.01,216.5 L327.32,216 L322.63,216 L317.94,215.1 L313.25,213.4 L308.56,209.2 L303.87,206.5 L299.17,203 L294.48,204.8 L289.79,206 L285.1,208.3Z" fill="#0872c2"/><path d="M285.1,217.8 L289.79,218.3 L294.48,218.7 L299.17,220.3 L303.87,221.5 L308.56,221.8 L313.25,222.3 L317.94,222.8 L322.63,222.8 L327.32,221.8 L332.01,221 L336.7,206.8 L341.4,205.5 L346.09,214.5 L350.78,218.3 L355.47,219.1 L360.16,216 L364.85,212.2 L369.54,213 L374.23,212.2 L378.93,213 L383.62,213.4 L388.31,213.7 L393,215.3" class="lg"/><path d="M285.1,213 L289.79,214.8 L294.48,216.8 L299.17,219.3 L303.87,220.8 L308.56,221.5" class="lr"/><path d="M285.1,208.3 L289.79,206 L294.48,204.8 L299.17,203 L303.87,206.5 L308.56,209.2 L313.25,213.4 L317.94,215.1 L322.63,216 L327.32,216 L332.01,216.5 L336.7,204.5 L341.4,202 L346.09,211.8 L350.78,216.5 L355.47,217.6 L360.16,213.5 L364.85,210.7 L369.54,209.9 L374.23,209.1 L378.93,208.4 L383.62,209.1 L388.31,208.4 L393,209.1" class="ly"/><path d="M285.1,182.5 L289.79,184.5 L294.48,193 L299.17,192.2 L303.87,199 L308.56,204 L313.25,209.2 L317.94,210.9 L322.63,211.7 L327.32,212 L332.01,212.5 L336.7,199.5 L341.4,192.5 L346.09,206.5 L350.78,213 L355.47,214.6 L360.16,208.3 L364.85,203 L369.54,203 L374.23,203.8 L378.93,199.2 L383.62,203.8 L388.31,198.4 L393,200.7" class="lt"/><rect x="285.1" y="138.5" width="107.9" height="86.5" class="fr"/><path d="M285.1,225 H393" class="ax"/><text x="281.9" y="226.5" class="yt" textLength="1.8" lengthAdjust="spacingAndGlyphs">0</text><path d="M284.1,225 h1" class="tk"/><text x="281.9" y="208.44" class="yt" textLength="7.2" lengthAdjust="spacingAndGlyphs">5000</text><path d="M284.1,206.94 h1" class="tk"/><text x="281.9" y="190.37" class="yt" textLength="9" lengthAdjust="spacingAndGlyphs">10000</text><path d="M284.1,188.87 h1" class="tk"/><text x="281.9" y="172.31" class="yt" textLength="9" lengthAdjust="spacingAndGlyphs">15000</text><path d="M284.1,170.81 h1" class="tk"/><text x="281.9" y="154.25" class="yt" textLength="9" lengthAdjust="spacingAndGlyphs">20000</text><path d="M284.1,152.75 h1" class="tk"/><text x="285.1" y="233.3" class="xt" textLength="8.3" lengthAdjust="spacingAndGlyphs">1991</text><path d="M285.1,225 v-1" class="tk"/><text x="294.48" y="233.3" class="xt" textLength="8.3" lengthAdjust="spacingAndGlyphs">1993</text><path d="M294.48,225 v-1" class="tk"/><text x="303.87" y="233.3" class="xt" textLength="8.3" lengthAdjust="spacingAndGlyphs">1995</text><path d="M303.87,225 v-1" class="tk"/><text x="313.25" y="233.3" class="xt" textLength="8.3" lengthAdjust="spacingAndGlyphs">1997</text><path d="M313.25,225 v-1" class="tk"/><text x="322.63" y="233.3" class="xt" textLength="8.3" lengthAdjust="spacingAndGlyphs">1999</text><path d="M322.63,225 v-1" class="tk"/><text x="332.01" y="233.3" class="xt" textLength="8.3" lengthAdjust="spacingAndGlyphs">2001</text><path d="M332.01,225 v-1" class="tk"/><text x="341.4" y="233.3" class="xt" textLength="8.3" lengthAdjust="spacingAndGlyphs">2003</text><path d="M341.4,225 v-1" class="tk"/><text x="350.78" y="233.3" class="xt" textLength="8.3" lengthAdjust="spacingAndGlyphs">2005</text><path d="M350.78,225 v-1" class="tk"/><text x="360.16" y="233.3" class="xt" textLength="8.3" lengthAdjust="spacingAndGlyphs">2007</text><path d="M360.16,225 v-1" class="tk"/><text x="369.54" y="233.3" class="xt" textLength="8.3" lengthAdjust="spacingAndGlyphs">2009</text><path d="M369.54,225 v-1" class="tk"/><text x="378.93" y="233.3" class="xt" textLength="8.3" lengthAdjust="spacingAndGlyphs">2011</text><path d="M378.93,225 v-1" class="tk"/><text x="388.31" y="233.3" class="xt" textLength="8.3" lengthAdjust="spacingAndGlyphs">2013</text><path d="M388.31,225 v-1" class="tk"/><text x="338.75" y="241" class="xl" textLength="8.5" lengthAdjust="spacingAndGlyphs">Year</text><text transform="translate(272.4,190.25) rotate(-90)" class="yl">Afforested Area (&#8201;km<tspan class="sup" dy="-1.2">2</tspan><tspan dy="1.2">&#8201;)</tspan></text><text x="289.2" y="145.4" class="tp">(</text><text x="291.3" y="145.4" class="tp">f</text><text x="294.5" y="145.4" class="tp">)</text><text x="299.7" y="145.6" class="ti" textLength="25.5" lengthAdjust="spacingAndGlyphs">East China</text></g>

<rect x="109.2" y="251.2" width="3.9" height="4.5" fill="#92d050"/><text x="113.4" y="255.9" class="lg2" textLength="21.3" lengthAdjust="spacingAndGlyphs">Shelterbelt</text>
<rect x="136.7" y="251.2" width="4" height="4.5" fill="#ff1010"/><text x="141.5" y="255.9" class="lg2" textLength="28.2" lengthAdjust="spacingAndGlyphs">Firewood forest</text>
<rect x="175.7" y="251.2" width="3.8" height="4.5" fill="#ffe27a"/><text x="180.2" y="255.9" class="lg2" textLength="30.8" lengthAdjust="spacingAndGlyphs">Economic forest</text>
<rect x="214.7" y="251.2" width="3.8" height="4.5" fill="#0070c0"/><text x="220.9" y="255.9" class="lg2" textLength="24.3" lengthAdjust="spacingAndGlyphs">Timber forest</text>
<rect x="248.8" y="251.2" width="4.4" height="4.5" fill="#000"/><text x="254.2" y="255.9" class="lg2" textLength="33.8" lengthAdjust="spacingAndGlyphs">Special use forest</text>

<text x="27" y="287.5" class="cap" textLength="339" lengthAdjust="spacingAndGlyphs">Figure 1&#160; Change of regional forestation in China from 1991 to 2014</text>
</svg>
</body></html>
